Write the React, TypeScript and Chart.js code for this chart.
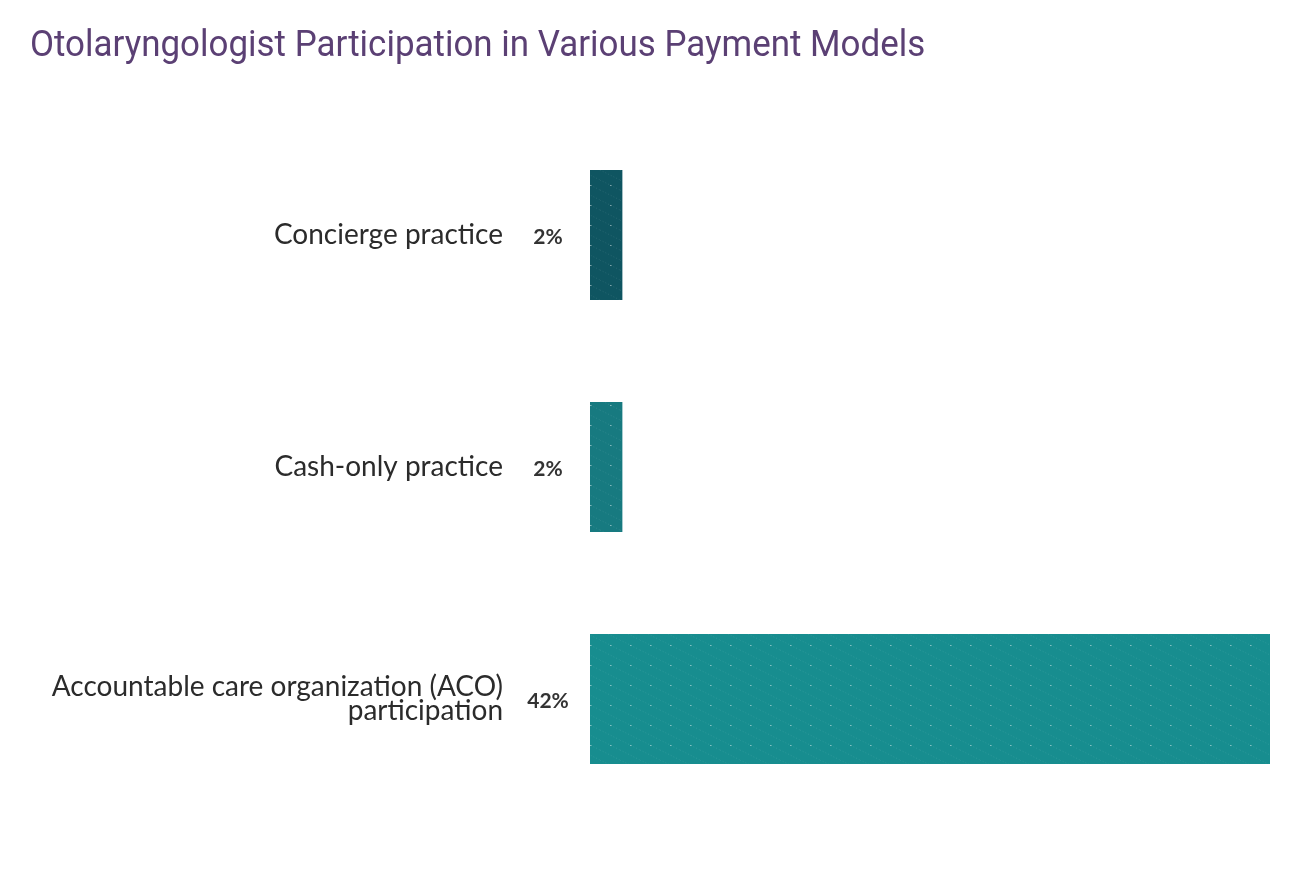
import { Chart, registerables } from 'chart.js';
import { useEffect, useRef } from 'react';

Chart.register(...registerables);

const categories = [
    'Concierge practice',
    'Cash-only practice',
    ['Accountable care organization (ACO)', 'participation'],
];
const shares = [2, 2, 42];
const barColors = ['#0f5561', '#177a80', '#178d8f'];
const titleText = 'Otolaryngologist Participation in Various Payment Models';

// diagonal dotted texture over a flat fill
function makePattern(ctx: CanvasRenderingContext2D, base: string) {
    const tile = document.createElement('canvas');
    tile.width = 20;
    tile.height = 20;
    const t = tile.getContext('2d')!;
    t.fillStyle = base;
    t.fillRect(0, 0, 20, 20);
    t.strokeStyle = 'rgba(255,255,255,0.10)';
    t.lineWidth = 1;
    t.setLineDash([1, 2]);
    t.beginPath();
    t.moveTo(0, 0);
    t.lineTo(20, 10);
    t.moveTo(0, 10);
    t.lineTo(20, 20);
    t.stroke();
    t.fillStyle = 'rgba(255,255,255,0.45)';
    t.fillRect(10, 5, 1.5, 1);
    return ctx.createPattern(tile, 'repeat') || base;
}

const valueLabels = {
    id: 'valueLabels',
    afterDatasetsDraw(chart: Chart) {
        const { ctx, chartArea } = chart;
        const meta = chart.getDatasetMeta(0);
        ctx.save();
        ctx.font = '700 21px Lato';
        ctx.fillStyle = '#333333';
        ctx.textAlign = 'center';
        ctx.textBaseline = 'middle';
        meta.data.forEach((bar, i) => {
            ctx.fillText(shares[i] + '%', chartArea.left - 42, bar.y + 2);
        });
        ctx.restore();
    },
};

function App() {
    const chartRef = useRef<HTMLCanvasElement | null>(null);
    const chartInstanceRef = useRef<Chart | null>(null);

    useEffect(() => {
        document.body.style.margin = '0';
        if (!chartRef.current) return;
        const ctx = chartRef.current.getContext('2d');
        if (!ctx) return;

        chartInstanceRef.current = new Chart(ctx, {
            type: 'bar',
            data: {
                labels: categories,
                datasets: [
                    {
                        data: shares,
                        backgroundColor: barColors.map((c) => makePattern(ctx, c)),
                        borderWidth: 0,
                        categoryPercentage: 0.56,
                        barPercentage: 1,
                    },
                ],
            },
            options: {
                indexAxis: 'y',
                animation: false,
                responsive: false,
                layout: { padding: { top: 119, bottom: 63, right: 20, left: 0 } },
                scales: {
                    x: { display: false, min: 0, max: 42 },
                    y: {
                        grid: { display: false, drawTicks: false },
                        border: { display: false },
                        ticks: {
                            padding: 87,
                            color: '#2b2b2b',
                            font: { family: 'Lato', size: 28, lineHeight: 0.85 },
                        },
                        afterFit: (scale) => {
                            scale.width = 590;
                            scale.paddingTop = 0;
                            scale.paddingBottom = 0;
                        },
                    },
                },
                plugins: {
                    legend: { display: false },
                    tooltip: { enabled: false },
                },
            },
            plugins: [valueLabels],
        });

        return () => {
            if (chartInstanceRef.current) {
                chartInstanceRef.current.destroy();
                chartInstanceRef.current = null;
            }
        };
    }, []);

    return (
        <div style={{ position: 'relative', width: 1290, height: 878, background: '#fff' }}>
            <div
                style={{
                    position: 'absolute',
                    left: 30,
                    top: 22,
                    font: '37px Roboto',
                    color: '#5b4074',
                    whiteSpace: 'nowrap',
                    transform: 'scaleX(0.944)',
                    transformOrigin: 'left top',
                }}
            >
                {titleText}
            </div>
            <canvas ref={chartRef} width='1290' height='878'></canvas>
        </div>
    );
}

export default App;
